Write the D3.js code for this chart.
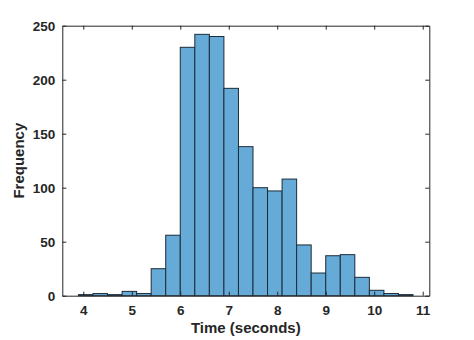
<!DOCTYPE html>
<html>
<head>
<meta charset="utf-8">
<script src="https://cdn.jsdelivr.net/npm/d3@7"></script>
<style>
  html, body { margin: 0; padding: 0; background: #fff; }
  svg { display: block; }
  text { font-family: "Liberation Sans", Arial, Helvetica, sans-serif; font-weight: bold; fill: #262626; }
</style>
</head>
<body>
<svg id="chart" width="474" height="340"></svg>
<script>
// Histogram bins (left edge of each 0.3 s bin) and counts
const binStarts = [3.9, 4.2, 4.5, 4.8, 5.1, 5.4, 5.7, 6.0, 6.3, 6.6, 6.9, 7.2, 7.5, 7.8, 8.1, 8.4, 8.7, 9.0, 9.3, 9.6, 9.9, 10.2, 10.5];
const counts    = [1,   2,   1,   4,   2,   25,  56,  230, 242, 240, 192, 138, 100, 97,  108, 47,  21,  37,  38,  17,  5,   2,   1];
const binWidth = 0.3;

const xTicks = [4, 5, 6, 7, 8, 9, 10, 11];
const yTicks = [0, 50, 100, 150, 200, 250];
const xLimits = [3.567, 11.136];
const yLimits = [0, 250];

const svg = d3.select("#chart");
const plot = { left: 62.3, right: 429.3, top: 25.7, bottom: 295.7 };

const x = d3.scaleLinear().domain(xLimits).range([plot.left, plot.right]);
const y = d3.scaleLinear().domain(yLimits).range([plot.bottom, plot.top]);

const axisColor = "#262626";

// Bars
svg.append("g")
  .selectAll("rect")
  .data(binStarts.map((s, i) => ({ s, c: counts[i] })))
  .join("rect")
  .attr("x", d => x(d.s))
  .attr("width", d => x(d.s + binWidth) - x(d.s))
  .attr("y", d => y(d.c))
  .attr("height", d => y(0) - y(d.c))
  .attr("fill", "#66aad7")
  .attr("stroke", "#1c2c3a")
  .attr("stroke-width", 1);

// Axes with inward ticks on all four sides
const tickLen = 4;
function styleAxis(g) {
  g.selectAll("path.domain").attr("stroke", axisColor).attr("stroke-width", 1);
  g.selectAll(".tick line").attr("stroke", axisColor);
}

const xAxisBottom = svg.append("g")
  .attr("transform", `translate(0,${plot.bottom})`)
  .call(d3.axisBottom(x).tickValues(xTicks).tickSizeInner(-tickLen).tickSizeOuter(0).tickPadding(10).tickFormat(d3.format("d")));
xAxisBottom.selectAll("text").attr("font-size", 13.5).attr("fill", axisColor);
styleAxis(xAxisBottom);

const xAxisTop = svg.append("g")
  .attr("transform", `translate(0,${plot.top})`)
  .call(d3.axisTop(x).tickValues(xTicks).tickSizeInner(-tickLen).tickSizeOuter(0).tickFormat(""));
styleAxis(xAxisTop);

const yAxisLeft = svg.append("g")
  .attr("transform", `translate(${plot.left},0)`)
  .call(d3.axisLeft(y).tickValues(yTicks).tickSizeInner(-tickLen).tickSizeOuter(0).tickPadding(7).tickFormat(d3.format("d")));
yAxisLeft.selectAll("text").attr("font-size", 13.5).attr("fill", axisColor);
styleAxis(yAxisLeft);

const yAxisRight = svg.append("g")
  .attr("transform", `translate(${plot.right},0)`)
  .call(d3.axisRight(y).tickValues(yTicks).tickSizeInner(-tickLen).tickSizeOuter(0).tickFormat(""));
styleAxis(yAxisRight);

// Axis titles
svg.append("text")
  .attr("x", (plot.left + plot.right) / 2)
  .attr("y", 333)
  .attr("text-anchor", "middle")
  .attr("font-size", 15)
  .text("Time (seconds)");

svg.append("text")
  .attr("transform", `translate(24,${(plot.top + plot.bottom) / 2}) rotate(-90)`)
  .attr("text-anchor", "middle")
  .attr("font-size", 15)
  .text("Frequency");
</script>
</body>
</html>
